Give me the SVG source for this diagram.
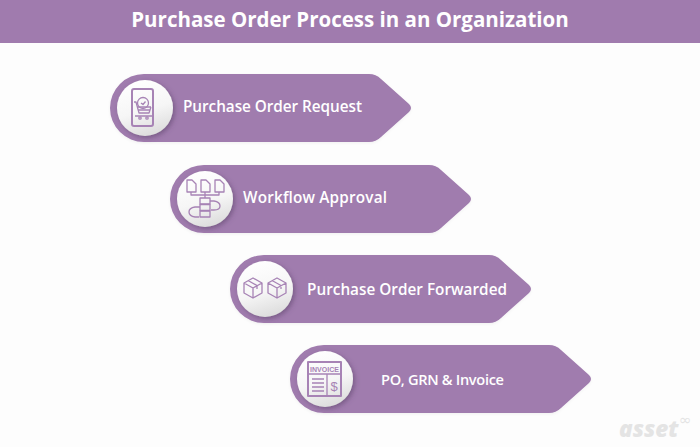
<svg xmlns="http://www.w3.org/2000/svg" width="700" height="447" viewBox="0 0 700 447">
<defs>
<linearGradient id="disc" x1="0.3" y1="0" x2="0.6" y2="1"><stop offset="0" stop-color="#ffffff"/><stop offset="0.55" stop-color="#f6f6f6"/><stop offset="1" stop-color="#dcdcdc"/></linearGradient>
<filter id="sh" x="-30%" y="-30%" width="170%" height="170%"><feDropShadow dx="2" dy="2" stdDeviation="2.5" flood-color="#5a3d66" flood-opacity="0.55"/></filter>
<filter id="sh2" x="-5%" y="-10%" width="110%" height="125%"><feDropShadow dx="0" dy="1" stdDeviation="1.500" flood-color="#000" flood-opacity="0.05"/></filter>
<path id="tag" d="M34 0H259Q266 0 271 5L299 30Q303 34 299 38L271 63Q266 68 259 68H34A34 34 0 0 1 34 0Z"/>
</defs>
<style>
.bg{fill:#fdfdfd}
.p{fill:#a07bae}
.c{fill:url(#disc);filter:url(#sh)}
.t{font-family:"Open Sans","Liberation Sans",sans-serif;font-weight:600;font-size:15.3px;fill:#fff}
.i{fill:none;stroke:#a783b5;stroke-width:1.3;stroke-linejoin:round}
.b{stroke-width:2}
</style>
<rect class="bg" width="700" height="447"/>
<g id="title"><rect class="p" width="700" height="43"/>
<text x="350" y="27" text-anchor="middle" font-family="'Open Sans','Liberation Sans',sans-serif" font-weight="700" font-size="20.5" fill="#fff">Purchase Order Process in an Organization</text></g>

<g id="node1" transform="translate(110 74)">
<use href="#tag" class="p" filter="url(#sh2)"/><circle class="c" cx="35" cy="34" r="28"/>
<g class="i"><rect class="b" x="22" y="15" width="21" height="37" rx="2"/>
<circle cx="33" cy="29" r="5.500"/><path d="M31 29l2 1.500 2.500-3M24 28H26L29 39H39L41 33M27 33H41M28 36H40M25 42H42"/><circle cx="30" cy="44" r="1.200"/><circle cx="37" cy="44" r="1.200"/></g>
<text class="t" x="73" y="38" textLength="179">Purchase Order Request</text></g>

<g id="node2" transform="translate(170 165)">
<use href="#tag" class="p" filter="url(#sh2)"/><circle class="c" cx="35" cy="34" r="28"/>
<g class="i"><path d="M17 15H22L26 19V27H17ZM31 15H36L40 19V27H31ZM45 15H50L54 19V27H45Z"/><path d="M21 27V30H49V27M35 27V33"/>
<rect x="30" y="33" width="10" height="6"/><rect x="30" y="39.500" width="10" height="6"/><rect x="30" y="46" width="10" height="6"/>
<path d="M40 36H44Q50 37 50 41Q50 45 44 45H41M30 42H25Q19 43 19 47Q19 51 25 52H29"/></g>
<text class="t" x="73" y="38" textLength="144">Workflow Approval</text></g>

<g id="node3" transform="translate(230 255)">
<use href="#tag" class="p" filter="url(#sh2)"/><circle class="c" cx="35" cy="34" r="28"/>
<g class="i"><path d="M23 23L32 28V38L23 43L14 38V28ZM14 28L23 33L32 28M23 33V43M18 25.500L27 30.500V34"/>
<path d="M47 23L56 28V38L47 43L38 38V28ZM38 28L47 33L56 28M47 33V43M42 25.500L51 30.500V34"/></g>
<text class="t" x="77" y="40" textLength="200">Purchase Order Forwarded</text></g>

<g id="node4" transform="translate(290 345)">
<use href="#tag" class="p" filter="url(#sh2)"/><circle class="c" cx="35" cy="34" r="28"/>
<g class="i"><rect class="b" x="18" y="17" width="33" height="34"/><path d="M18 29H51M37 29V51"/><path d="M22 34H34M22 38H34M22 42H34M22 46H34"/></g>
<text x="34.500" y="26.500" text-anchor="middle" font-family="'Liberation Sans',sans-serif" font-weight="700" font-size="7" fill="#a783b5">INVOICE</text>
<text x="44" y="46" text-anchor="middle" font-family="'Liberation Sans',sans-serif" font-size="13" fill="#a783b5">$</text>
<text class="t" x="91" y="40" style="font-size:14.6px" textLength="123">PO, GRN &amp; Invoice</text></g>

<g id="logo"><text x="619" y="437" font-family="'Open Sans','Liberation Sans',sans-serif" font-weight="800" font-style="italic" font-size="22.500" fill="#e4e4e4">asset</text>
<text x="679" y="425" font-family="'DejaVu Sans',sans-serif" font-size="15" fill="#e4e4e4">∞</text></g>
<g id="connectors"></g>
</svg>
